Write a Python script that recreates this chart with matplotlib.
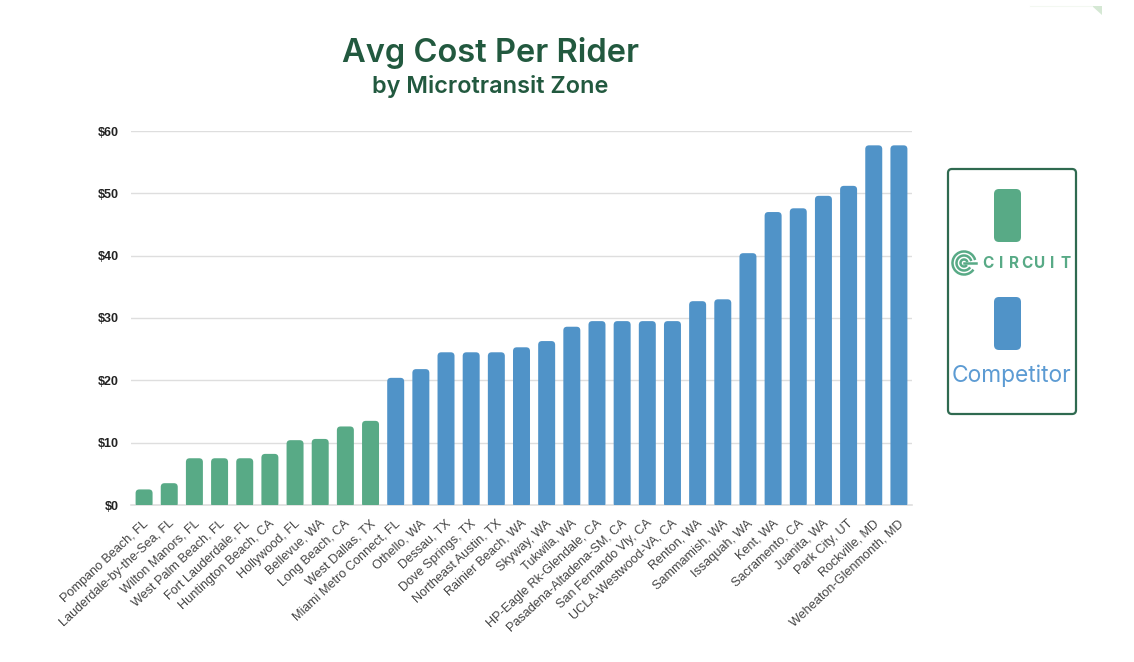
import numpy as np
import matplotlib
matplotlib.use("Agg")
import matplotlib.pyplot as plt
from matplotlib.patches import Arc, FancyBboxPatch, Polygon
from matplotlib.transforms import ScaledTranslation

zones = ["Pompano Beach, FL", "Lauderdale-by-the-Sea, FL", "Wilton Manors, FL", "West Palm Beach, FL",
         "Fort Lauderdale, FL", "Huntington Beach, CA", "Hollywood, FL", "Bellevue, WA", "Long Beach, CA",
         "West Dallas, TX", "Miami Metro Connect, FL", "Othello, WA", "Dessau, TX", "Dove Springs, TX",
         "Northeast Austin, TX", "Rainier Beach, WA", "Skyway, WA", "Tukwila, WA", "HP-Eagle Rk-Glendale, CA",
         "Pasadena-Altadena-SM, CA", "San Fernando Vly, CA", "UCLA-Westwood-VA, CA", "Renton, WA",
         "Sammamish, WA", "Issaquah, WA", "Kent, WA", "Sacramento, CA", "Juanita, WA", "Park City, UT",
         "Rockville, MD", "Weheaton-Glenmonth, MD"]
cost = [2.5, 3.5, 7.5, 7.5, 7.5, 8.2, 10.4, 10.6, 12.6, 13.5, 20.4, 21.8, 24.5, 24.5, 24.5, 25.3,
        26.3, 28.6, 29.5, 29.5, 29.5, 29.5, 32.7, 33.0, 40.4, 47.0, 47.6, 49.6, 51.2, 57.7, 57.7]
n_circuit = 10
yticks = [0, 10, 20, 30, 40, 50, 60]

GREEN = "#58aa86"
BLUE = "#5093c8"
DARK = "#22593f"
W, H = 1134, 662

plt.rcParams["font.family"] = ["Liberation Sans", "DejaVu Sans"]

fig = plt.figure(figsize=(W / 100, H / 100), dpi=100)
fig.patch.set_facecolor("white")

# axes box in pixels: left 131, right 912, top 131, bottom 505
ax = fig.add_axes([131 / W, 1 - 505 / H, 781 / W, 374 / H])
colors = [GREEN] * n_circuit + [BLUE] * (len(cost) - n_circuit)
x = np.arange(len(cost))
ax.set_xlim(-0.52, 30.52)
ax.set_ylim(0, 60)

# rounded bars, aspect keeps the corners circular on screen
# they start a little under zero so the axes clip most of the bottom rounding
aspect = (781 / 31.04) / (374 / 60)
bar_w = 0.675
under = 0.35
for xi, v, c in zip(x, cost, colors):
    ax.add_patch(FancyBboxPatch((xi - bar_w / 2, -under), bar_w, v + under,
                                boxstyle="round,pad=0,rounding_size=0.15",
                                mutation_aspect=aspect, fc=c, ec="none", zorder=3))

ax.set_yticks(yticks)
ax.set_yticklabels([f"${v}" for v in yticks], fontsize=9, fontweight="bold", color="#222222")
ax.set_xticks(x)
ax.set_xticklabels(zones, rotation=43, ha="right", rotation_mode="anchor", fontsize=9.05, color="#444444")
ax.tick_params(axis="both", length=0)
ax.tick_params(axis="x", pad=9)
ax.tick_params(axis="y", pad=9)
shift = ScaledTranslation(-1 / 100, 0, fig.dpi_scale_trans)
for lab in ax.get_xticklabels():
    lab.set_transform(lab.get_transform() + shift)
ax.grid(axis="y", color="#dedede", linewidth=1, zorder=0)
for s in ["top", "right", "left"]:
    ax.spines[s].set_visible(False)
ax.spines["bottom"].set_color("#dedede")
ax.spines["bottom"].set_linewidth(1.2)

fig.text(490 / W, 1 - 53 / H, "Avg Cost Per Rider", ha="center", va="center", fontsize=23.5,
         color=DARK, family=["Inter", "DejaVu Sans"], fontweight="semibold")
fig.text(490 / W, 1 - 86 / H, "by Microtransit Zone", ha="center", va="center", fontsize=16.9,
         color=DARK, family=["Inter", "DejaVu Sans"], fontweight="semibold")

# overlay in pixel coordinates for the legend box
ov = fig.add_axes([0, 0, 1, 1], facecolor="none")
ov.set_xlim(0, W)
ov.set_ylim(H, 0)
ov.axis("off")
ov.add_patch(FancyBboxPatch((948, 169), 128, 245, boxstyle="round,pad=0,rounding_size=4",
                            fc="white", ec="#2f6a50", lw=1.6))
ov.add_patch(FancyBboxPatch((994, 189), 27, 53, boxstyle="round,pad=0,rounding_size=5",
                            fc=GREEN, ec="none"))
ov.add_patch(FancyBboxPatch((994, 297), 27, 53, boxstyle="round,pad=0,rounding_size=5",
                            fc=BLUE, ec="none"))
for d in [23, 15, 7]:
    ov.add_patch(Arc((964, 263), d, d, theta1=35, theta2=345, color=GREEN, lw=1.8))
ov.plot([964, 976], [263, 263], color=GREEN, lw=1.8)
for i, ch in enumerate("CIRCUIT"):
    ov.text(988 + i * 12.9, 263, ch, ha="center", va="center", fontsize=11, fontweight="bold",
            color=GREEN, family=["Inter", "DejaVu Sans"])
ov.text(1011.5, 376, "Competitor", ha="center", va="center", fontsize=16.4, color="#5c9bd3",
        family=["Inter", "DejaVu Sans"])

# faint corner left over at the top right of the card
ov.plot([1030, 1092], [6, 6], color="#f3f8f1", lw=0.8)
ov.add_patch(Polygon([(1092, 6), (1102, 6), (1102, 15)], fc="#d5e8d4", ec="none"))

fig.savefig("out.png", dpi=100)
